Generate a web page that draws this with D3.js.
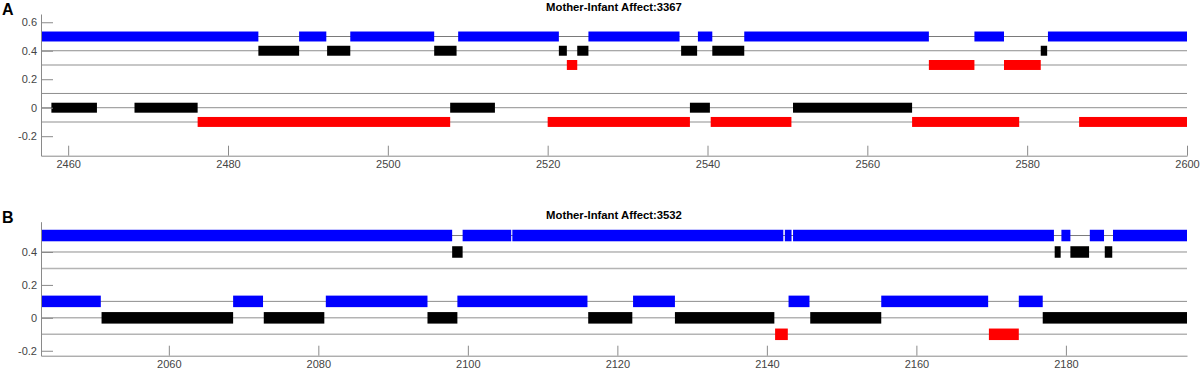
<!DOCTYPE html>
<html>
<head>
<meta charset="utf-8">
<script src="https://cdn.jsdelivr.net/npm/d3@7"></script>
<style>
  body { margin: 0; background: #fff; }
  svg { display: block; font-family: Arial, "Liberation Sans", sans-serif; }
  .axis path, .axis line { stroke: #8a8a8a; }
  .axis text { fill: #444; font-size: 11px; }
</style>
</head>
<body>
<svg id="chart" width="1200" height="373"></svg>
<script>
// row levels: mother pos / neu / neg, infant pos / neu / neg
let rowLevels = [0.5, 0.4, 0.3, 0.1, 0, -0.1];
let rowColors = ["#0000ff", "#000000", "#ff0000", "#0000ff", "#000000", "#ff0000"];

// panel A (3367) - intervals in seconds
let aMomPos = [[2456.6, 2483.8], [2488.9, 2492.3], [2495.3, 2505.8], [2508.8, 2521.4], [2525.1, 2536.5],
               [2538.8, 2540.6], [2544.6, 2567.7], [2573.4, 2577.1], [2582.6, 2600]];
let aMomNeu = [[2483.8, 2488.9], [2492.4, 2495.3], [2505.8, 2508.6], [2521.4, 2522.4], [2523.7, 2525.1],
               [2536.7, 2538.7], [2540.6, 2544.6], [2581.7, 2582.5]];
let aMomNeg = [[2522.4, 2523.7], [2567.7, 2573.4], [2577.1, 2581.7]];
let aInfPos = [];
let aInfNeu = [[2457.9, 2463.6], [2468.3, 2476.2], [2507.8, 2513.4], [2537.8, 2540.3], [2550.7, 2565.6]];
let aInfNeg = [[2476.2, 2507.8], [2520.0, 2537.8], [2540.4, 2550.5], [2565.6, 2579.0], [2586.5, 2600]];
let aXTicks = [2460, 2480, 2500, 2520, 2540, 2560, 2580, 2600];
let aYTicks = [0.6, 0.4, 0.2, 0, -0.2];

// panel B (3532)
let bMomPos = [[2042.9, 2097.9], [2099.3, 2105.8], [2105.95, 2142.2], [2142.4, 2143.3], [2143.5, 2178.4],
               [2179.4, 2180.6], [2183.2, 2185.1], [2186.3, 2196.2]];
let bMomNeu = [[2097.9, 2099.3], [2178.5, 2179.3], [2180.6, 2183.1], [2185.2, 2186.2]];
let bMomNeg = [];
let bInfPos = [[2042.9, 2050.9], [2068.6, 2072.6], [2081.0, 2094.6], [2098.6, 2116.0], [2122.1, 2127.7],
               [2142.9, 2145.7], [2155.3, 2169.6], [2173.7, 2176.9]];
let bInfNeu = [[2051.0, 2068.6], [2072.7, 2080.8], [2094.6, 2098.6], [2116.1, 2122.0], [2127.7, 2141.0],
               [2145.8, 2155.3], [2176.9, 2196.2]];
let bInfNeg = [[2141.1, 2142.8], [2169.7, 2173.7]];
let bXTicks = [2060, 2080, 2100, 2120, 2140, 2160, 2180];
let bYTicks = [0.4, 0.2, 0, -0.2];

let svg = d3.select("#chart");

let panels = [
    {letter: "A", title: "Mother-Infant Affect:3367", rows: [aMomPos, aMomNeu, aMomNeg, aInfPos, aInfNeu, aInfNeg],
     xDomain: [2456.6, 2600], yDomain: [-0.337, 0.658], top: 14, bottom: 155.7, xTicks: aXTicks, yTicks: aYTicks},
    {letter: "B", title: "Mother-Infant Affect:3532", rows: [bMomPos, bMomNeu, bMomNeg, bInfPos, bInfNeu, bInfNeg],
     xDomain: [2042.9, 2196.2], yDomain: [-0.23, 0.584], top: 221.7, bottom: 355.7, xTicks: bXTicks, yTicks: bYTicks}
];

let left = 41, right = 1187, barHalf = 0.035;
let lineStyle = [
    {c: "#7a7a7a", w: 1}, {c: "#8e8e8e", w: 1}, {c: "#b4b4b4", w: 1.6},
    {c: "#8e8e8e", w: 1}, {c: "#8e8e8e", w: 1}, {c: "#b4b4b4", w: 1.6}
];

panels.forEach(function (p) {
    let x = d3.scaleLinear().domain(p.xDomain).range([left, right]);
    let y = d3.scaleLinear().domain(p.yDomain).range([p.bottom, p.top]);
    let g = svg.append("g");

    // baseline for each row
    g.selectAll("line.row")
        .data(rowLevels)
        .enter().append("line")
        .attr("class", "row")
        .attr("x1", x(p.xDomain[0])).attr("x2", x(p.xDomain[1]))
        .attr("y1", d => y(d)).attr("y2", d => y(d))
        .attr("stroke", (d, i) => lineStyle[i].c)
        .attr("stroke-width", (d, i) => lineStyle[i].w);

    // interval bars
    p.rows.forEach(function (intervals, i) {
        g.selectAll("rect.r" + i)
            .data(intervals)
            .enter().append("rect")
            .attr("class", "r" + i)
            .attr("x", d => x(d[0]))
            .attr("width", d => x(d[1]) - x(d[0]))
            .attr("y", y(rowLevels[i] + barHalf))
            .attr("height", y(rowLevels[i] - barHalf) - y(rowLevels[i] + barHalf))
            .attr("fill", rowColors[i]);
    });

    let yAxis = d3.axisLeft(y)
        .tickValues(p.yTicks)
        .tickSizeInner(-12).tickSizeOuter(0).tickPadding(4)
        .tickFormat(d => d === 0 ? "0" : d.toFixed(1));
    g.append("g").attr("class", "axis")
        .attr("transform", "translate(" + left + ",0)")
        .call(yAxis)
        .call(a => a.selectAll("text").attr("x", -4));

    let xAxis = d3.axisBottom(x)
        .tickValues(p.xTicks)
        .tickSizeInner(-10).tickSizeOuter(0).tickPadding(5)
        .tickFormat(d3.format("d"));
    g.append("g").attr("class", "axis")
        .attr("transform", "translate(0," + p.bottom + ")")
        .call(xAxis);

    g.append("text")
        .attr("x", (left + right) / 2)
        .attr("y", p.top - 3)
        .attr("text-anchor", "middle")
        .style("font-size", "11.3px")
        .style("font-weight", "bold")
        .text(p.title);

    g.append("text")
        .attr("x", 2)
        .attr("y", p.top + 1)
        .style("font-size", "16px")
        .style("font-weight", "bold")
        .text(p.letter);
});
</script>
</body>
</html>
